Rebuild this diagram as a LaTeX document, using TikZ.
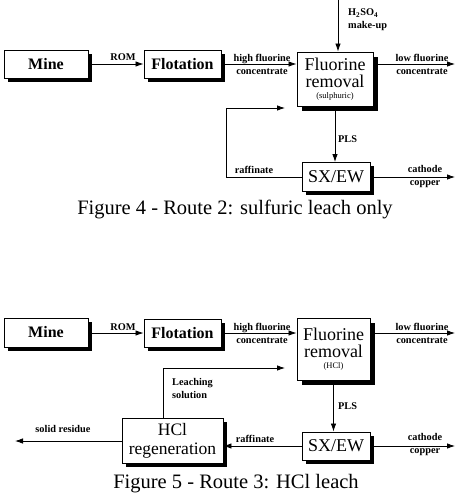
\documentclass[tikz,border=0pt]{standalone}
\usepackage{fontspec}
\setmainfont{Liberation Serif}
\usetikzlibrary{arrows.meta}
\begin{document}
\begin{tikzpicture}[x=1pt,y=-1pt,
  box/.style={draw, line width=0.9pt, fill=white, inner sep=0pt},
  boxshadow/.style={fill=black},
  bigb/.style={font=\fontsize{16}{16}\selectfont\bfseries},
  bign/.style={font=\fontsize{18}{17}\selectfont, align=center},
  lbl/.style={font=\fontsize{10.3}{13}\selectfont\bfseries, inner sep=0pt, align=center},
  figcap/.style={font=\fontsize{20.5}{22}\selectfont, inner sep=0pt, anchor=base},
  flow/.style={line width=0.8pt, -{Latex[length=8pt,width=5.5pt]}}]
\useasboundingbox (0,0) rectangle (458,501);

% ---------- shadows (drawn first, behind the boxes) ----------
\fill[boxshadow] (7.5,53.5) rectangle (91.5,81.5);
\fill[boxshadow] (147.5,53.5) rectangle (224.5,81.5);
\fill[boxshadow] (301.5,56.5) rectangle (377.5,110.5);
\fill[boxshadow] (305.5,166) rectangle (373.5,195);
\fill[boxshadow] (7.5,321.5) rectangle (91.5,350.5);
\fill[boxshadow] (147.5,322.5) rectangle (224.5,350.5);
\fill[boxshadow] (302,323) rectangle (375,385);
\fill[boxshadow] (305.5,435.5) rectangle (373.5,463.5);
\fill[boxshadow] (125.5,421.5) rectangle (226.5,466.5);

% ---------- Figure 4 ----------
\node[box, bigb, minimum width=84pt, minimum height=28pt] (mine1) at (46,64) {Mine};
\node[box, bigb, minimum width=77pt, minimum height=28pt] (flot1) at (182.5,64) {Flotation};
\node[box, bign, minimum width=76pt, minimum height=54pt] (fr1) at (335,79)
  {Fluorine\\removal\\[-6pt]{\fontsize{8.5}{10}\selectfont (sulphuric)}};
\node[box, font=\fontsize{18}{18}\selectfont, minimum width=68pt, minimum height=29pt] (sx1) at (336,177) {SX/EW};

\coordinate (h21) at (338,0);
\coordinate (lf1) at (455,64);
\coordinate (cc1) at (455,177);
\coordinate (rc1) at (226,177);
\coordinate (rt1) at (285,108);

\draw[flow] (mine1) -- (flot1);
\draw[flow] (flot1.east) -- (flot1.east -| fr1.west);
\draw[flow] (lf1 -| fr1.east) -- (lf1);
\draw[flow] (h21) -- (h21 |- fr1.north);
\draw[flow] (fr1.south) -- (fr1.south |- sx1.north);
\draw[flow] (sx1.east) -- (cc1);
\draw[flow] (sx1.west) -- (rc1) |- (rt1);

\node[lbl, anchor=base] (rom1) at (123,60.5) {ROM};
\node[lbl] (hf1) at (262,64) {high fluorine\\concentrate};
\node[lbl] (lfl1) at (422,64) {low fluorine\\concentrate};
\node[lbl, anchor=west, align=left] (h2l1) at (348,20) {H\textsubscript{2}SO\textsubscript{4}\\make-up};
\node[lbl, anchor=base west] (pls1) at (338,142) {PLS};
\node[lbl, anchor=base] (raf1) at (254,173) {raffinate};
\node[lbl] (cu1) at (425,177) {cathode\\copper};
\node[figcap] (cap1) at (235,214) {Figure 4 - Route 2: sulfuric leach only};

% ---------- Figure 5 ----------
\node[box, bigb, minimum width=84pt, minimum height=29pt] (mine2) at (46,332.5) {Mine};
\node[box, bigb, minimum width=77pt, minimum height=28pt] (flot2) at (182.5,333) {Flotation};
\node[box, bign, minimum width=73pt, minimum height=62pt] (fr2) at (333.5,349)
  {Fluorine\\removal\\[-6pt]{\fontsize{8.5}{10}\selectfont (HCl)}};
\node[box, font=\fontsize{18}{18}\selectfont, minimum width=68pt, minimum height=28pt] (sx2) at (336,446) {SX/EW};
\node[box, font=\fontsize{17.5}{19}\selectfont, align=center, minimum width=101pt, minimum height=45pt] (hcl) at (172.5,440.5) {HCl\\regeneration};

\coordinate (lf2) at (455,333);
\coordinate (cc2) at (455,446);
\coordinate (sr2) at (15,441);
\coordinate (ls2) at (163,368);
\coordinate (lt2) at (285,368);

\draw[flow] (mine2.east |- flot2.east) -- (flot2.west);
\draw[flow] (flot2.east) -- (flot2.east -| fr2.west);
\draw[flow] (lf2 -| fr2.east) -- (lf2);
\draw[flow] (fr2.south) -- (fr2.south |- sx2.north);
\draw[flow] (sx2.east) -- (cc2);
\draw[flow] (sx2.west) -- (sx2.west -| hcl.east);
\draw[flow] (sr2 -| hcl.west) -- (sr2);
\draw[flow] (hcl.north -| ls2) -- (ls2) -- (lt2);

\node[lbl, anchor=base] (rom2) at (123,330) {ROM};
\node[lbl] (hf2) at (262,333) {high fluorine\\concentrate};
\node[lbl] (lfl2) at (422,333) {low fluorine\\concentrate};
\node[lbl, anchor=base west] (pls2) at (338,409) {PLS};
\node[lbl, anchor=base] (raf2) at (255,442) {raffinate};
\node[lbl] (cu2) at (425,445) {cathode\\copper};
\node[lbl, anchor=base] (sr2l) at (63,432) {solid residue};
\node[lbl, anchor=west, align=left] (lsl) at (172,388) {Leaching\\solution};
\node[figcap] (cap2) at (236,488) {Figure 5 - Route 3: HCl leach};
\end{tikzpicture}
\end{document}
